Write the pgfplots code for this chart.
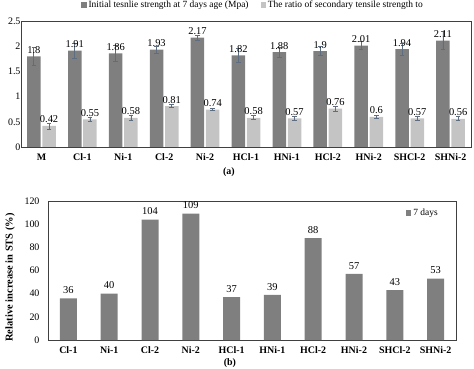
\documentclass[border=0pt]{standalone}
\usepackage{fontspec}
\setmainfont{Liberation Serif}
\usepackage{pgfplots}
\pgfplotsset{compat=1.18}
\usepackage{pgfplotstable}
\definecolor{darkbar}{HTML}{7F7F7F}
\definecolor{lightbar}{HTML}{C4C4C4}
\definecolor{errc}{HTML}{5E6E80}
\pgfplotstableread{
x dark derr light lerr
0 1.80 0.17 0.42 0.06
1 1.91 0.15 0.55 0.04
2 1.86 0.15 0.58 0.05
3 1.93 0.07 0.81 0.03
4 2.17 0.05 0.74 0.02
5 1.82 0.13 0.58 0.04
6 1.88 0.10 0.57 0.04
7 1.90 0.09 0.76 0.05
8 2.01 0.08 0.60 0.03
9 1.94 0.12 0.57 0.04
10 2.11 0.18 0.56 0.04
}\topdata
\pgfplotstableread{
x val
0 36
1 40
2 104
3 109
4 37
5 39
6 88
7 57
8 43
9 53
}\botdata
\begin{document}
\begin{tikzpicture}
\useasboundingbox (0,0) rectangle (474bp,369bp);
\pgfplotsset{
  every axis/.append style={
    /pgf/number format/assume math mode=true,
    scale only axis,
    axis line style={black!75},
    major tick length=0pt,
    tick label style={font=\fontsize{10}{11}\selectfont},
    xticklabel style={font=\fontsize{10}{11}\selectfont\bfseries, yshift=-3bp},
    nodes near coords style={font=\fontsize{10.5}{11}\selectfont, inner sep=1.5bp, yshift=1bp, black},
    legend style={draw=none, fill=none, font=\fontsize{9.5}{10}\selectfont},
    legend image code/.code={\fill[#1,draw=none] (0bp,-2.6bp) rectangle (5.2bp,2.6bp);},
  }
}
% ---------- Top panel ----------
\begin{axis}[
  at={(21bp,222bp)}, anchor=south west,
  width=450bp, height=126bp,
  ymin=0, ymax=2.5, ytick={0,0.5,...,2.5},
  xmin=-0.5, xmax=10.5,
  xtick={0,...,10},
  xticklabels={M,Cl-1,Ni-1,Cl-2,Ni-2,HCl-1,HNi-1,HCl-2,HNi-2,SHCl-2,SHNi-2},
  yticklabel style={xshift=3bp},
  legend columns=2,
  legend style={at={(0.127,1.127)}, anchor=west, /tikz/every even column/.append style={column sep=10bp}},
  clip=false,
]
\addplot[ybar, bar width=13.5bp, bar shift=0pt, fill=darkbar, draw=none,
  nodes near coords,
  error bars/.cd, y dir=both, y explicit,
  error bar style={errc, line width=0.7bp},
  error mark options={rotate=90, mark size=2.3bp, errc, line width=0.6bp}]
  table[x expr=\thisrow{x}-0.186, y=dark, y error=derr] {\topdata};
\addlegendentry{Initial tesnlie strength at 7 days age (Mpa)}
\addplot[ybar, bar width=13.5bp, bar shift=0pt, fill=lightbar, draw=none,
  nodes near coords,
  error bars/.cd, y dir=both, y explicit,
  error bar style={errc, line width=0.7bp},
  error mark options={rotate=90, mark size=2.3bp, errc, line width=0.6bp}]
  table[x expr=\thisrow{x}+0.186, y=light, y error=lerr] {\topdata};
\addlegendentry{The ratio of secondary tensile strength to}
\node[font=\fontsize{10}{11}\selectfont\bfseries] at (rel axis cs:0.462,-0.198) {(a)};
\end{axis}
% ---------- Bottom panel ----------
\begin{axis}[
  at={(48bp,29bp)}, anchor=south west,
  width=408bp, height=139bp,
  ymin=0, ymax=120, ytick={0,20,...,120},
  xmin=-0.5, xmax=9.5,
  xtick={0,...,9},
  xticklabels={Cl-1,Ni-1,Cl-2,Ni-2,HCl-1,HNi-1,HCl-2,HNi-2,SHCl-2,SHNi-2},
  yticklabel style={xshift=-5bp},
  ylabel={Relative increase in STS (\%)},
  every axis y label/.style={at={(rel axis cs:-0.093,0.45)}, rotate=90, anchor=center, font=\fontsize{10.5}{11}\selectfont\bfseries},
  legend style={at={(0.87,0.914)}, anchor=west},
  clip=false,
]
\addplot[ybar, bar width=17bp, fill=darkbar, draw=none, nodes near coords,
  nodes near coords style={yshift=2bp}]
  table[x=x, y=val] {\botdata};
\addlegendentry{7 days}
\node[font=\fontsize{10}{11}\selectfont\bfseries] at (rel axis cs:0.446,-0.165) {(b)};
\end{axis}
\end{tikzpicture}
\end{document}
